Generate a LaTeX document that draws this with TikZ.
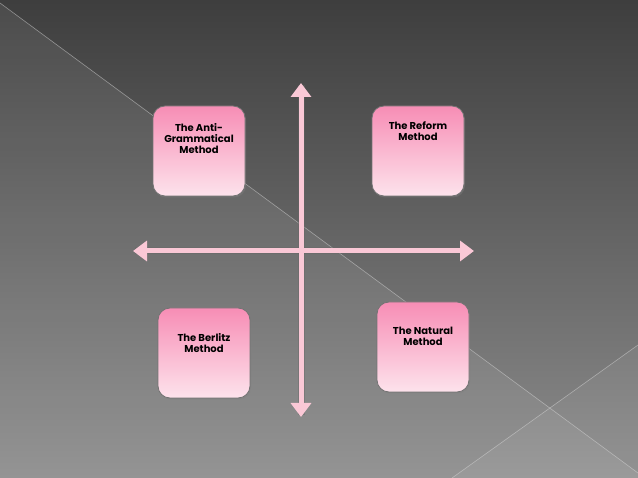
\documentclass[tikz,border=0pt]{standalone}
\usepackage{fontspec}
\setmainfont{Poppins}
\usetikzlibrary{arrows.meta,shadows}
\definecolor{bgtop}{HTML}{3E3E3E}
\definecolor{bgbot}{HTML}{8C8C8C}
\definecolor{pinktop}{HTML}{F78DB5}
\definecolor{pinkbot}{HTML}{FDE3EC}
\definecolor{arrowpink}{HTML}{FAC8D6}
\tikzset{
  box/.style={rounded corners=12pt, minimum width=92pt, minimum height=90pt,
    top color=pinktop, bottom color=pinkbot, draw=black!55, line width=0.8pt,
    align=center, font=\fontsize{10}{11}\selectfont\bfseries, text=black,
    drop shadow={shadow xshift=1pt, shadow yshift=-1.5pt, opacity=0.4}},
  axis/.style={draw=arrowpink, line width=5pt,
    arrows={Triangle[length=14pt,width=20pt]-Triangle[length=14pt,width=20pt]}},
  axisshadow/.style={draw=black!60, opacity=0.4, line width=7pt},
}
\begin{document}
\begin{tikzpicture}[x=1pt,y=-1pt]
\useasboundingbox (0,0) rectangle (638,478);
\shade[top color=bgtop, bottom color=bgbot] (0,0) rectangle (638,478);
\fill[white, opacity=0.07] (0,3) -- (638,473) -- (638,478) -- (0,478) -- cycle;
\fill[white, opacity=0.06] (452,478) -- (638,345) -- (638,478) -- cycle;
\draw[white!70!gray, opacity=0.5, line width=0.6pt] (0,3) -- (638,473);
\draw[white!70!gray, opacity=0.5, line width=0.6pt] (452,478) -- (638,345);
\coordinate (top) at (301,83);
\coordinate (bot) at (301,417);
\coordinate (left) at (133,251);
\coordinate (right) at (474,251);
\draw[axisshadow] ([yshift=-2pt]top) -- ([yshift=2pt]bot);
\draw[axisshadow] ([xshift=2pt]left) -- ([xshift=-2pt]right);
\draw[axis] (bot) -- (top);
\draw[axis] (left) -- (right);
\node[box] (a) at (199,151) {The Anti-\\Grammatical\\Method\\[14pt]};
\node[box] (b) at (418,151) {The Reform\\Method\\[28pt]};
\node[box] (c) at (204,353) {The Berlitz\\Method\\[10pt]};
\node[box] (d) at (423,347) {The Natural\\Method\\[10pt]};
\end{tikzpicture}
\end{document}
